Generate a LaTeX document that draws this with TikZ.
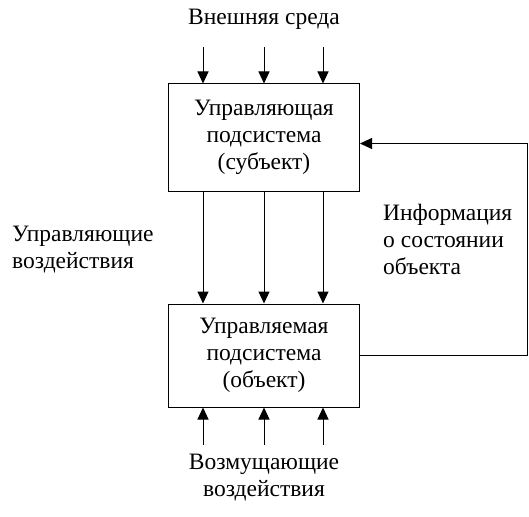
\documentclass[tikz,border=0pt]{standalone}
\usepackage{fontspec}
\setmainfont{Liberation Serif}
\usetikzlibrary{arrows.meta,positioning,calc}

\begin{document}
\begin{tikzpicture}[
    x=1pt, y=-1pt,
    every node/.style={font=\fontsize{23.5}{27}\selectfont},
    unit/.style={rectangle, draw, line width=1pt, minimum width=191pt, align=center, inner sep=0pt},
    label/.style={align=left, inner sep=0pt},
    flow/.style={-{Triangle[length=12pt,width=11pt]}, line width=1pt},
]
\useasboundingbox (0,0) rectangle (529,516);

% Subsystems
\node[unit, minimum height=107pt] (ctrl) at (264,137.5) {Управляющая\\подсистема\\(субъект)};
\node[unit, minimum height=103pt] (obj) at (264,355.5) {Управляемая\\подсистема\\(объект)};

% Labels
\node[label, align=center] (env) at (264,19) {Внешняя среда};
\node[label, align=center] (dist) at (264,478) {Возмущающие\\воздействия};
\node[label, anchor=west] (act) at (12,250) {Управляющие\\воздействия};
\node[label, anchor=west] (info) at (383,239) {Информация\\о состоянии\\объекта};

% Arrows
\foreach \dx in {-61,0,59} {
  \draw[flow] ($(ctrl.north)+(\dx,-36)$) -- ($(ctrl.north)+(\dx,0)$);
  \draw[flow] ($(ctrl.south)+(\dx,0)$) -- ($(obj.north)+(\dx,0)$);
  \draw[flow] ($(obj.south)+(\dx,37)$) -- ($(obj.south)+(\dx,0)$);
}

% Feedback
\coordinate (fb) at ($(ctrl.east)+(0,6)$);
\draw[flow] (obj.east) -- ++(167,0) |- (fb);

\end{tikzpicture}
\end{document}
